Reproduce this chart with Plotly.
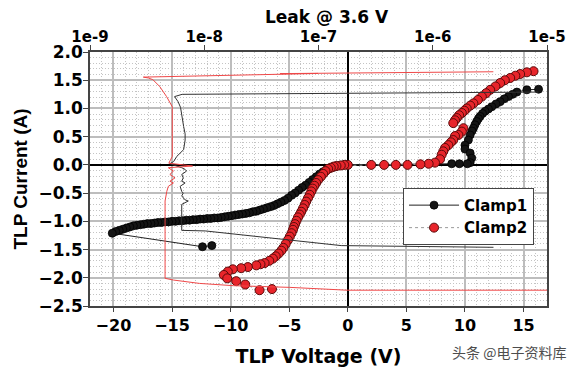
import plotly.graph_objects as go

# ---------------- data ----------------
# Clamp1 TLP I-V (positive branch, from high current down to 0, then negative branch)
c1_v = [16.28, 15.28, 14.43, 14.07, 13.71, 13.35, 13.00, 12.65, 12.29, 12.00,
        11.72, 11.50, 11.29, 11.15, 11.00, 10.85, 10.72, 10.60, 10.44, 10.29,
        10.00, 10.00, 10.44, 10.58, 10.44, 10.20, 9.52, 8.87, 0.00,
        -0.3, -0.6, -0.9, -1.2, -1.5, -1.8, -2.1, -2.4, -2.7, -3.0,
        -3.3, -3.6, -3.9, -4.2, -4.5, -4.8, -5.1, -5.4, -5.7, -6.0,
        -6.3, -6.6, -6.9, -7.2, -7.5, -7.8, -8.1, -8.4, -8.7, -9.0,
        -9.3, -9.6, -9.9, -10.2, -10.5, -10.8, -11.1, -11.4, -11.7, -12.0,
        -12.3, -12.6, -12.9, -13.2, -13.5, -13.8, -14.1, -14.4, -14.7, -15.0,
        -15.3, -15.6, -15.9, -16.2, -16.5, -16.8, -17.1, -17.4, -17.7, -18.0,
        -18.3, -18.6, -18.9, -19.2, -19.5, -19.8, -20.1, -12.4, -11.6]
c1_i = [1.34, 1.33, 1.29, 1.25, 1.21, 1.17, 1.12, 1.08, 1.03, 0.99,
        0.95, 0.91, 0.86, 0.82, 0.77, 0.71, 0.65, 0.60, 0.53, 0.44,
        0.35, 0.28, 0.21, 0.12, 0.04, 0.02, 0.02, 0.02, 0.00,
        0.00, -0.01, -0.02, -0.04, -0.06, -0.08, -0.12, -0.16, -0.21, -0.26,
        -0.31, -0.36, -0.40, -0.45, -0.50, -0.54, -0.59, -0.63, -0.66, -0.69,
        -0.72, -0.74, -0.76, -0.78, -0.80, -0.82, -0.83, -0.85, -0.86, -0.87,
        -0.88, -0.89, -0.90, -0.91, -0.92, -0.93, -0.94, -0.94, -0.95, -0.95,
        -0.96, -0.96, -0.97, -0.97, -0.98, -0.98, -0.99, -0.99, -1.00, -1.00,
        -1.01, -1.01, -1.02, -1.02, -1.03, -1.04, -1.04, -1.05, -1.06, -1.07,
        -1.08, -1.10, -1.12, -1.14, -1.16, -1.18, -1.21, -1.45, -1.43]

# Clamp2 TLP I-V
c2_v = [15.85, 15.28, 14.71, 14.30, 13.86, 13.40, 13.00, 12.60, 12.15, 11.80,
        11.44, 11.10, 10.72, 10.45, 10.15, 9.95, 9.73, 9.50, 9.30, 9.15,
        9.00, 9.87, 9.73, 9.44, 9.15, 9.00, 8.80, 8.58, 8.30, 8.15,
        8.01, 7.87, 7.44, 6.90, 6.20, 5.10, 4.10, 3.10, 2.00, 0.00,
        -0.30, -0.60, -0.97, -1.20, -1.45, -1.68, -1.90, -2.10, -2.30, -2.54,
        -2.70, -2.85, -3.00, -3.11, -3.25, -3.40, -3.55, -3.68, -3.82, -3.97,
        -4.10, -4.25, -4.38, -4.50, -4.60, -4.68, -4.80, -4.95, -5.10, -5.30,
        -5.50, -5.67, -5.90, -6.15, -6.39, -6.70, -7.10, -7.45, -7.81, -8.53,
        -9.10, -9.81, -10.24, -10.58, -10.29, -9.52, -8.75, -7.53, -6.47]
c2_i = [1.66, 1.64, 1.61, 1.58, 1.54, 1.50, 1.45, 1.39, 1.33, 1.27,
        1.21, 1.15, 1.09, 1.05, 1.00, 0.96, 0.92, 0.88, 0.83, 0.79,
        0.74, 0.65, 0.59, 0.53, 0.51, 0.44, 0.40, 0.35, 0.30, 0.24,
        0.18, 0.10, 0.04, 0.02, 0.01, 0.00, 0.00, 0.00, 0.00, 0.00,
        0.00, -0.01, -0.02, -0.03, -0.05, -0.07, -0.11, -0.16, -0.21, -0.27,
        -0.32, -0.37, -0.42, -0.47, -0.53, -0.59, -0.65, -0.71, -0.77, -0.83,
        -0.88, -0.93, -0.99, -1.05, -1.10, -1.15, -1.21, -1.27, -1.33, -1.40,
        -1.47, -1.52, -1.57, -1.62, -1.66, -1.70, -1.74, -1.76, -1.78, -1.81,
        -1.83, -1.85, -1.89, -1.95, -2.01, -2.06, -2.12, -2.22, -2.20]

# Leakage @ 3.6 V (A) measured after each pulse, versus TLP current
c1_leak = [8.4e-6, 6.4e-9, 5.5e-9, 5.9e-9, 6.2e-9, 6.3e-9, 6.5e-9, 6.6e-9, 6.8e-9, 6.8e-9,
           6.6e-9, 5.75e-9, 5.4e-9, 5.0e-9,
           6.35e-9, 6.8e-9, 7.0e-9, 6.35e-9, 6.55e-9, 6.35e-9, 6.8e-9, 6.15e-9, 6.35e-9, 6.55e-9,
           6.35e-9, 6.8e-9, 7.25e-9, 6.35e-9, 6.35e-9, 1.02e-8, 1.58e-7, 3.4e-6]
c1_leak_i = [1.29, 1.25, 1.21, 1.12, 1.02, 0.92, 0.80, 0.68, 0.55, 0.44,
             0.27, 0.15, 0.06, 0.02,
             -0.05, -0.08, -0.11, -0.17, -0.23, -0.29, -0.32, -0.38, -0.47, -0.50,
             -0.55, -0.62, -0.64, -0.70, -1.16, -1.17, -1.43, -1.46]

c2_leak = [3.39e-6, 4.61e-8, 9.9e-8, 2.93e-9, 3.24e-9, 3.55e-9, 4.07e-9, 4.68e-9, 5.25e-9, 5.25e-9,
           5.25e-9, 4.9e-9, 7.9e-9, 4.85e-9, 5.37e-9, 5.0e-9, 5.55e-9, 5.0e-9, 5.37e-9, 4.85e-9,
           4.7e-9, 4.54e-9, 4.54e-9, 5.37e-9, 9.1e-9, 1.8e-8, 5.6e-8, 1.78e-7, 1.3e-5]
c2_leak_i = [1.65, 1.617, 1.62, 1.555, 1.54, 1.51, 1.39, 1.21, 1.03, 0.56,
             0.15, 0.03, -0.02, -0.05, -0.11, -0.17, -0.23, -0.29, -0.32, -0.38,
             -0.47, -0.64, -2.01, -2.04, -2.10, -2.14, -2.17, -2.22, -2.22]

top_tickvals = [1e-9, 1e-8, 1e-7, 1e-6, 1e-5]
top_ticktext = ["1e-9", "1e-8", "1e-7", "1e-6", "1e-5"]

# ---------------- figure ----------------
TF = dict(family="DejaVu Sans", size=16, color="black", weight="bold")

fig = go.Figure()
fig.add_trace(go.Scatter(
    x=c1_leak, y=c1_leak_i, xaxis="x2", yaxis="y", mode="lines",
    line=dict(color="#333333", width=1), showlegend=False, hoverinfo="skip"))
fig.add_trace(go.Scatter(
    x=c2_leak, y=c2_leak_i, xaxis="x2", yaxis="y", mode="lines",
    line=dict(color="#ef4848", width=1), showlegend=False, hoverinfo="skip"))
fig.add_trace(go.Scatter(
    x=c1_v, y=c1_i, mode="lines+markers", name="Clamp1",
    line=dict(color="#222222", width=1),
    marker=dict(size=8, color="#151515", line=dict(color="#000000", width=0.8))))
fig.add_trace(go.Scatter(
    x=c2_v, y=c2_i, mode="lines+markers", name="Clamp2",
    line=dict(color="#9a9a9a", width=1, dash="dot"),
    marker=dict(size=9, color="#e8252b", line=dict(color="#5b0a0a", width=1))))

MINOR_GRID = dict(showgrid=True, gridcolor="#c4c4c4", griddash="1px,2px", gridwidth=1)

# the page body adds an 8 px offset, so the figure is 8 px smaller than the window
fig.update_layout(
    width=572, height=361,
    margin=dict(l=82, r=33, t=44, b=63),
    paper_bgcolor="white", plot_bgcolor="white",
    xaxis=dict(
        automargin=False,
        range=[-22, 17], tick0=0, dtick=5,
        showgrid=True, gridcolor="#bdbdbd", gridwidth=2,
        minor=dict(dtick=1, **MINOR_GRID),
        zeroline=True, zerolinecolor="black", zerolinewidth=2,
        showline=True, linecolor="#444444", linewidth=1.5, mirror=True,
        ticks="outside", ticklen=4, tickcolor="#444444",
        tickfont=TF,
        title=dict(text="TLP Voltage (V)", standoff=16,
                   font=dict(family="DejaVu Sans", size=19, color="black", weight="bold")),
    ),
    yaxis=dict(
        automargin=False,
        range=[-2.5, 2.0], tick0=0, dtick=0.5, tickformat=".1f",
        showgrid=True, gridcolor="#bdbdbd", gridwidth=2,
        minor=dict(dtick=0.1, **MINOR_GRID),
        zeroline=True, zerolinecolor="black", zerolinewidth=2,
        showline=True, linecolor="#444444", linewidth=1.5, mirror=True,
        ticks="outside", ticklen=5, tickcolor="#444444",
        ticklabelstandoff=-3,
        tickfont=dict(family="DejaVu Sans", size=17, color="black", weight="bold"),
        title=dict(text="TLP Current (A)", standoff=6,
                   font=dict(family="Liberation Sans", size=19, color="black", weight="bold")),
    ),
    xaxis2=dict(
        automargin=False,
        type="log", range=[-9, -5], overlaying="x", side="top", anchor="y",
        tickvals=top_tickvals, ticktext=top_ticktext,
        showgrid=False, zeroline=False,
        showline=True, linecolor="#444444", linewidth=1.5,
        ticks="outside", ticklen=5, tickcolor="#444444",
        ticklabelstandoff=-3,
        tickfont=dict(family="DejaVu Sans", size=15, color="black", weight="bold"),
    ),
    legend=dict(
        x=0.685, y=0.465, xanchor="left", yanchor="top",
        bgcolor="white", bordercolor="#444444", borderwidth=1,
        font=dict(family="DejaVu Sans", size=15, color="black", weight="bold"),
        itemwidth=50, tracegroupgap=0,
    ),
    annotations=[
        dict(text="Leak @ 3.6 V", xref="paper", yref="paper",
             x=0.519, y=1.136, xanchor="center", yanchor="middle", showarrow=False,
             font=dict(family="DejaVu Sans", size=17, color="black", weight="bold")),
        dict(text="头条 @电子资料库", xref="paper", yref="paper",
             x=0.917, y=-0.181, xanchor="center", yanchor="middle", showarrow=False,
             font=dict(family="Noto Sans CJK SC", size=14, color="#4d4d4d")),
    ],
)

fig.write_html("out.html")
